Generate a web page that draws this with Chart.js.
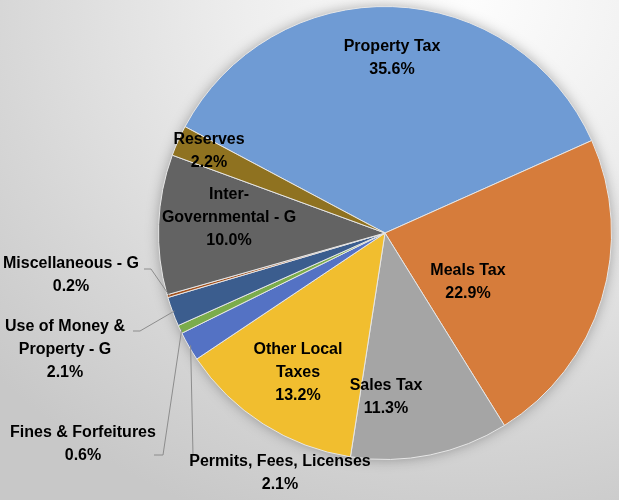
<!DOCTYPE html>
<html>
<head>
<meta charset="utf-8">
<script src="https://cdn.jsdelivr.net/npm/chart.js@4"></script>
<style>
  html, body { margin: 0; padding: 0; }
  body {
    width: 619px; height: 500px; overflow: hidden;
    background: radial-gradient(ellipse 640px 560px at 470px 0px, #fdfdfd 0%, #eeeeee 35%, #d6d6d6 75%, #c8c8c8 100%);
  }
  #wrap { position: relative; width: 619px; height: 500px; }
</style>
</head>
<body>
<div id="wrap"><canvas id="pie" width="619" height="500"></canvas></div>
<script>
/* ---------------- DATA ---------------- */
const categories = ["Property Tax", "Meals Tax", "Sales Tax", "Other Local Taxes", "Permits, Fees, Licenses",
  "Fines & Forfeitures", "Use of Money & Property - G", "Miscellaneous - G", "Inter-Governmental - G", "Reserves"];
const shares = [35.6, 22.9, 11.3, 13.2, 2.1, 0.6, 2.1, 0.2, 10.0, 2.2];
const labelLines = [["Property Tax"], ["Meals Tax"], ["Sales Tax"], ["Other Local", "Taxes"], ["Permits, Fees, Licenses"],
  ["Fines & Forfeitures"], ["Use of Money &", "Property - G"], ["Miscellaneous - G"], ["Inter-", "Governmental - G"], ["Reserves"]];

/* ---------------- STYLE ---------------- */
const sliceColors = ["#6f9bd4", "#d67c3b", "#a5a5a5", "#f1be2f", "#5472c4", "#7bac4b", "#3b5d8e", "#a3501c", "#636363", "#8f7220"];
// label anchor (center of first line) in canvas px
const labelPos = [[392, 47], [468, 271], [386, 386], [298, 350], [280, 462], [83, 433], [65, 327], [71, 264], [229, 195], [209, 140]];
// leader lines for labels outside the pie: start point + optional elbow
const leaders = [
  { i: 4, from: [193, 455], elbow: null },
  { i: 5, from: [154, 455], elbow: [163, 455] },
  { i: 6, from: [133, 331], elbow: [140, 331] },
  { i: 7, from: [144, 269], elbow: [151, 269] }
];

/* ---------------- PLUGINS ---------------- */
const pieShadow = {
  id: "pieShadow",
  beforeDatasetsDraw(chart) {
    const arc = chart.getDatasetMeta(0).data[0];
    if (!arc) return;
    const ctx = chart.ctx;
    ctx.save();
    ctx.shadowColor = "rgba(0,0,0,0.35)";
    ctx.shadowBlur = 14;
    ctx.fillStyle = "#bbbbbb";
    ctx.beginPath();
    ctx.arc(arc.x, arc.y, arc.outerRadius - 1, 0, Math.PI * 2);
    ctx.fill();
    ctx.restore();
  }
};

const sliceLabels = {
  id: "sliceLabels",
  afterDatasetsDraw(chart) {
    const ctx = chart.ctx;
    const arcs = chart.getDatasetMeta(0).data;
    ctx.save();

    // leader lines
    ctx.strokeStyle = "#8c8c8c";
    ctx.lineWidth = 1;
    leaders.forEach((l) => {
      const a = arcs[l.i];
      const mid = (a.startAngle + a.endAngle) / 2;
      const r = a.outerRadius - 2;
      ctx.beginPath();
      ctx.moveTo(l.from[0], l.from[1]);
      if (l.elbow) ctx.lineTo(l.elbow[0], l.elbow[1]);
      ctx.lineTo(a.x + r * Math.cos(mid), a.y + r * Math.sin(mid));
      ctx.stroke();
    });

    // text
    ctx.fillStyle = "#000";
    ctx.font = "bold 16px 'Liberation Sans', sans-serif";
    ctx.textAlign = "center";
    ctx.textBaseline = "middle";
    labelLines.forEach((lines, i) => {
      const [x, y] = labelPos[i];
      const all = lines.concat([shares[i].toFixed(1) + "%"]);
      all.forEach((t, k) => ctx.fillText(t, x, y + k * 23));
    });
    ctx.restore();
  }
};

/* ---------------- CHART ---------------- */
new Chart(document.getElementById("pie"), {
  type: "pie",
  data: {
    labels: categories,
    datasets: [{
      data: shares,
      backgroundColor: sliceColors,
      borderColor: "#e6e6e6",
      borderWidth: 1
    }]
  },
  options: {
    responsive: false,
    animation: false,
    rotation: -62,
    layout: { padding: { left: 158, right: 7, top: 6, bottom: 40 } },
    plugins: {
      legend: { display: false },
      tooltip: { enabled: false }
    }
  },
  plugins: [pieShadow, sliceLabels]
});
</script>
</body>
</html>
